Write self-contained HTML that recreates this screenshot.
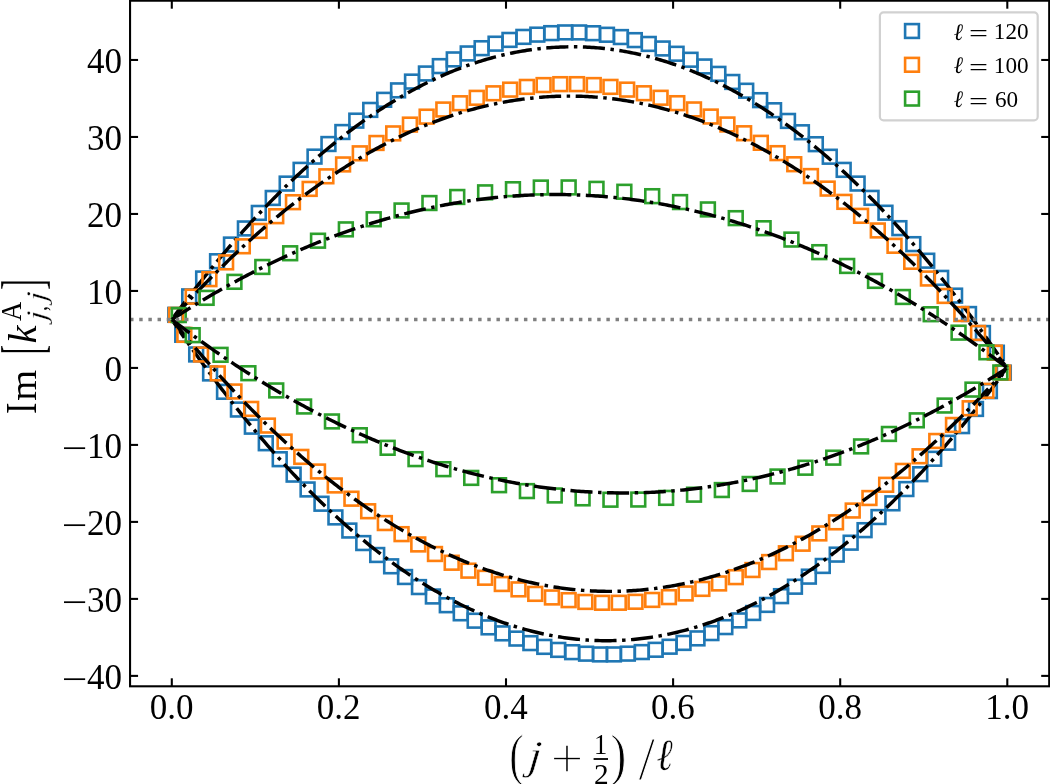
<!DOCTYPE html>
<html lang="en"><head><meta charset="utf-8"><title>Im k plot</title>
<style>html,body{margin:0;padding:0;background:#fff;overflow:hidden}svg{display:block}text{font-family:"Liberation Serif",serif;fill:#000}</style></head><body>
<svg width="1050" height="784" viewBox="0 0 1050 784">
<rect width="1050" height="784" fill="#fff"/>
<defs><clipPath id="ax"><rect x="130.06" y="0.70" width="919.14" height="685.60"/></clipPath></defs>
<g clip-path="url(#ax)">
<g fill="none" stroke="#1f77b4" stroke-width="2.60">
<rect x="168.38" y="307.94" width="13.80" height="13.80"/>
<rect x="182.31" y="289.45" width="13.80" height="13.80"/>
<rect x="196.23" y="271.59" width="13.80" height="13.80"/>
<rect x="210.16" y="254.32" width="13.80" height="13.80"/>
<rect x="224.08" y="237.64" width="13.80" height="13.80"/>
<rect x="238.01" y="221.54" width="13.80" height="13.80"/>
<rect x="251.93" y="206.01" width="13.80" height="13.80"/>
<rect x="265.86" y="191.06" width="13.80" height="13.80"/>
<rect x="279.78" y="176.69" width="13.80" height="13.80"/>
<rect x="293.71" y="162.91" width="13.80" height="13.80"/>
<rect x="307.63" y="149.71" width="13.80" height="13.80"/>
<rect x="321.56" y="137.11" width="13.80" height="13.80"/>
<rect x="335.48" y="125.12" width="13.80" height="13.80"/>
<rect x="349.41" y="113.74" width="13.80" height="13.80"/>
<rect x="363.33" y="103.00" width="13.80" height="13.80"/>
<rect x="377.26" y="92.90" width="13.80" height="13.80"/>
<rect x="391.18" y="83.46" width="13.80" height="13.80"/>
<rect x="405.11" y="74.69" width="13.80" height="13.80"/>
<rect x="419.03" y="66.60" width="13.80" height="13.80"/>
<rect x="432.96" y="59.20" width="13.80" height="13.80"/>
<rect x="446.88" y="52.51" width="13.80" height="13.80"/>
<rect x="460.81" y="46.54" width="13.80" height="13.80"/>
<rect x="474.73" y="41.29" width="13.80" height="13.80"/>
<rect x="488.66" y="36.78" width="13.80" height="13.80"/>
<rect x="502.58" y="33.01" width="13.80" height="13.80"/>
<rect x="516.51" y="29.99" width="13.80" height="13.80"/>
<rect x="530.43" y="27.73" width="13.80" height="13.80"/>
<rect x="544.36" y="26.23" width="13.80" height="13.80"/>
<rect x="558.28" y="25.49" width="13.80" height="13.80"/>
<rect x="572.21" y="25.52" width="13.80" height="13.80"/>
<rect x="586.13" y="26.31" width="13.80" height="13.80"/>
<rect x="600.06" y="27.86" width="13.80" height="13.80"/>
<rect x="613.98" y="30.16" width="13.80" height="13.80"/>
<rect x="627.91" y="33.22" width="13.80" height="13.80"/>
<rect x="641.83" y="37.03" width="13.80" height="13.80"/>
<rect x="655.76" y="41.58" width="13.80" height="13.80"/>
<rect x="669.68" y="46.85" width="13.80" height="13.80"/>
<rect x="683.61" y="52.85" width="13.80" height="13.80"/>
<rect x="697.53" y="59.56" width="13.80" height="13.80"/>
<rect x="711.46" y="66.96" width="13.80" height="13.80"/>
<rect x="725.38" y="75.05" width="13.80" height="13.80"/>
<rect x="739.31" y="83.82" width="13.80" height="13.80"/>
<rect x="753.23" y="93.24" width="13.80" height="13.80"/>
<rect x="767.16" y="103.32" width="13.80" height="13.80"/>
<rect x="781.08" y="114.02" width="13.80" height="13.80"/>
<rect x="795.01" y="125.35" width="13.80" height="13.80"/>
<rect x="808.93" y="137.29" width="13.80" height="13.80"/>
<rect x="822.86" y="149.83" width="13.80" height="13.80"/>
<rect x="836.78" y="162.96" width="13.80" height="13.80"/>
<rect x="850.71" y="176.67" width="13.80" height="13.80"/>
<rect x="864.63" y="190.96" width="13.80" height="13.80"/>
<rect x="878.56" y="205.81" width="13.80" height="13.80"/>
<rect x="892.48" y="221.24" width="13.80" height="13.80"/>
<rect x="906.41" y="237.24" width="13.80" height="13.80"/>
<rect x="920.33" y="253.81" width="13.80" height="13.80"/>
<rect x="934.26" y="270.97" width="13.80" height="13.80"/>
<rect x="948.18" y="288.73" width="13.80" height="13.80"/>
<rect x="962.11" y="307.11" width="13.80" height="13.80"/>
<rect x="976.03" y="326.12" width="13.80" height="13.80"/>
<rect x="989.96" y="345.81" width="13.80" height="13.80"/>
<rect x="175.34" y="327.88" width="13.80" height="13.80"/>
<rect x="189.27" y="347.55" width="13.80" height="13.80"/>
<rect x="203.19" y="366.55" width="13.80" height="13.80"/>
<rect x="217.12" y="384.91" width="13.80" height="13.80"/>
<rect x="231.04" y="402.65" width="13.80" height="13.80"/>
<rect x="244.97" y="419.78" width="13.80" height="13.80"/>
<rect x="258.89" y="436.34" width="13.80" height="13.80"/>
<rect x="272.82" y="452.31" width="13.80" height="13.80"/>
<rect x="286.74" y="467.72" width="13.80" height="13.80"/>
<rect x="300.67" y="482.56" width="13.80" height="13.80"/>
<rect x="314.59" y="496.83" width="13.80" height="13.80"/>
<rect x="328.52" y="510.52" width="13.80" height="13.80"/>
<rect x="342.44" y="523.64" width="13.80" height="13.80"/>
<rect x="356.37" y="536.16" width="13.80" height="13.80"/>
<rect x="370.29" y="548.09" width="13.80" height="13.80"/>
<rect x="384.22" y="559.41" width="13.80" height="13.80"/>
<rect x="398.14" y="570.11" width="13.80" height="13.80"/>
<rect x="412.07" y="580.17" width="13.80" height="13.80"/>
<rect x="425.99" y="589.58" width="13.80" height="13.80"/>
<rect x="439.92" y="598.33" width="13.80" height="13.80"/>
<rect x="453.84" y="606.40" width="13.80" height="13.80"/>
<rect x="467.77" y="613.79" width="13.80" height="13.80"/>
<rect x="481.69" y="620.47" width="13.80" height="13.80"/>
<rect x="495.62" y="626.45" width="13.80" height="13.80"/>
<rect x="509.54" y="631.69" width="13.80" height="13.80"/>
<rect x="523.47" y="636.21" width="13.80" height="13.80"/>
<rect x="537.39" y="639.98" width="13.80" height="13.80"/>
<rect x="551.32" y="643.00" width="13.80" height="13.80"/>
<rect x="565.24" y="645.27" width="13.80" height="13.80"/>
<rect x="579.17" y="646.78" width="13.80" height="13.80"/>
<rect x="593.09" y="647.53" width="13.80" height="13.80"/>
<rect x="607.02" y="647.51" width="13.80" height="13.80"/>
<rect x="620.94" y="646.73" width="13.80" height="13.80"/>
<rect x="634.87" y="645.18" width="13.80" height="13.80"/>
<rect x="648.79" y="642.88" width="13.80" height="13.80"/>
<rect x="662.72" y="639.82" width="13.80" height="13.80"/>
<rect x="676.64" y="636.02" width="13.80" height="13.80"/>
<rect x="690.57" y="631.48" width="13.80" height="13.80"/>
<rect x="704.49" y="626.20" width="13.80" height="13.80"/>
<rect x="718.42" y="620.21" width="13.80" height="13.80"/>
<rect x="732.34" y="613.50" width="13.80" height="13.80"/>
<rect x="746.27" y="606.10" width="13.80" height="13.80"/>
<rect x="760.19" y="598.01" width="13.80" height="13.80"/>
<rect x="774.12" y="589.25" width="13.80" height="13.80"/>
<rect x="788.04" y="579.82" width="13.80" height="13.80"/>
<rect x="801.97" y="569.75" width="13.80" height="13.80"/>
<rect x="815.89" y="559.05" width="13.80" height="13.80"/>
<rect x="829.82" y="547.73" width="13.80" height="13.80"/>
<rect x="843.74" y="535.79" width="13.80" height="13.80"/>
<rect x="857.67" y="523.26" width="13.80" height="13.80"/>
<rect x="871.59" y="510.14" width="13.80" height="13.80"/>
<rect x="885.52" y="496.43" width="13.80" height="13.80"/>
<rect x="899.44" y="482.15" width="13.80" height="13.80"/>
<rect x="913.37" y="467.29" width="13.80" height="13.80"/>
<rect x="927.29" y="451.85" width="13.80" height="13.80"/>
<rect x="941.22" y="435.84" width="13.80" height="13.80"/>
<rect x="955.14" y="419.23" width="13.80" height="13.80"/>
<rect x="969.07" y="402.03" width="13.80" height="13.80"/>
<rect x="982.99" y="384.21" width="13.80" height="13.80"/>
<rect x="996.92" y="365.75" width="13.80" height="13.80"/>
</g>
<polyline fill="none" stroke="#000" stroke-width="3.46" stroke-dasharray="22.12 5.53 3.46 5.53" points="171.80,319.56 173.89,316.72 175.98,313.90 178.07,311.09 180.16,308.30 182.24,305.52 184.33,302.76 186.42,300.01 188.51,297.28 190.60,294.56 192.69,291.86 194.78,289.17 196.87,286.50 198.95,283.84 201.04,281.20 203.13,278.57 205.22,275.96 207.31,273.36 209.40,270.77 211.49,268.20 213.58,265.65 215.66,263.11 217.75,260.58 219.84,258.07 221.93,255.58 224.02,253.10 226.11,250.63 228.20,248.18 230.29,245.75 232.37,243.33 234.46,240.92 236.55,238.53 238.64,236.15 240.73,233.79 242.82,231.44 244.91,229.11 247.00,226.79 249.08,224.49 251.17,222.20 253.26,219.93 255.35,217.67 257.44,215.43 259.53,213.20 261.62,210.99 263.71,208.79 265.79,206.60 267.88,204.43 269.97,202.28 272.06,200.14 274.15,198.02 276.24,195.91 278.33,193.81 280.42,191.73 282.50,189.67 284.59,187.61 286.68,185.58 288.77,183.56 290.86,181.55 292.95,179.56 295.04,177.58 297.12,175.62 299.21,173.68 301.30,171.74 303.39,169.83 305.48,167.92 307.57,166.04 309.66,164.16 311.75,162.31 313.84,160.46 315.92,158.63 318.01,156.82 320.10,155.02 322.19,153.24 324.28,151.47 326.37,149.72 328.46,147.98 330.55,146.25 332.63,144.54 334.72,142.85 336.81,141.17 338.90,139.50 340.99,137.85 343.08,136.22 345.17,134.60 347.25,132.99 349.34,131.40 351.43,129.82 353.52,128.26 355.61,126.71 357.70,125.18 359.79,123.67 361.88,122.16 363.97,120.68 366.05,119.20 368.14,117.75 370.23,116.30 372.32,114.88 374.41,113.46 376.50,112.06 378.59,110.68 380.68,109.31 382.76,107.96 384.85,106.62 386.94,105.29 389.03,103.99 391.12,102.69 393.21,101.41 395.30,100.15 397.38,98.90 399.47,97.66 401.56,96.44 403.65,95.23 405.74,94.04 407.83,92.87 409.92,91.71 412.01,90.56 414.10,89.43 416.18,88.31 418.27,87.21 420.36,86.12 422.45,85.05 424.54,83.99 426.63,82.95 428.72,81.92 430.81,80.91 432.89,79.91 434.98,78.93 437.07,77.96 439.16,77.01 441.25,76.07 443.34,75.14 445.43,74.23 447.52,73.34 449.60,72.46 451.69,71.59 453.78,70.74 455.87,69.91 457.96,69.09 460.05,68.28 462.14,67.49 464.22,66.72 466.31,65.96 468.40,65.21 470.49,64.48 472.58,63.76 474.67,63.06 476.76,62.37 478.85,61.70 480.94,61.04 483.02,60.40 485.11,59.77 487.20,59.16 489.29,58.56 491.38,57.98 493.47,57.41 495.56,56.86 497.65,56.32 499.73,55.80 501.82,55.29 503.91,54.79 506.00,54.31 508.09,53.85 510.18,53.40 512.27,52.96 514.36,52.54 516.44,52.14 518.53,51.75 520.62,51.37 522.71,51.01 524.80,50.67 526.89,50.33 528.98,50.02 531.07,49.72 533.15,49.43 535.24,49.16 537.33,48.90 539.42,48.66 541.51,48.43 543.60,48.22 545.69,48.02 547.78,47.84 549.86,47.67 551.95,47.52 554.04,47.38 556.13,47.26 558.22,47.15 560.31,47.05 562.40,46.97 564.49,46.91 566.57,46.86 568.66,46.82 570.75,46.80 572.84,46.80 574.93,46.81 577.02,46.83 579.11,46.87 581.19,46.93 583.28,47.00 585.37,47.08 587.46,47.18 589.55,47.29 591.64,47.42 593.73,47.56 595.82,47.72 597.90,47.90 599.99,48.08 602.08,48.29 604.17,48.50 606.26,48.73 608.35,48.98 610.44,49.24 612.53,49.52 614.62,49.81 616.70,50.12 618.79,50.44 620.88,50.77 622.97,51.13 625.06,51.49 627.15,51.87 629.24,52.27 631.33,52.68 633.41,53.10 635.50,53.54 637.59,53.99 639.68,54.46 641.77,54.95 643.86,55.45 645.95,55.96 648.03,56.49 650.12,57.03 652.21,57.59 654.30,58.16 656.39,58.75 658.48,59.35 660.57,59.97 662.66,60.60 664.75,61.25 666.83,61.91 668.92,62.59 671.01,63.28 673.10,63.99 675.19,64.71 677.28,65.45 679.37,66.20 681.45,66.96 683.54,67.74 685.63,68.54 687.72,69.35 689.81,70.17 691.90,71.01 693.99,71.87 696.08,72.74 698.16,73.62 700.25,74.52 702.34,75.43 704.43,76.36 706.52,77.31 708.61,78.27 710.70,79.24 712.79,80.23 714.88,81.23 716.96,82.25 719.05,83.28 721.14,84.33 723.23,85.39 725.32,86.47 727.41,87.56 729.50,88.66 731.59,89.79 733.67,90.92 735.76,92.07 737.85,93.24 739.94,94.42 742.03,95.62 744.12,96.83 746.21,98.05 748.30,99.29 750.38,100.55 752.47,101.82 754.56,103.10 756.65,104.40 758.74,105.71 760.83,107.04 762.92,108.39 765.00,109.75 767.09,111.12 769.18,112.51 771.27,113.91 773.36,115.33 775.45,116.76 777.54,118.21 779.63,119.67 781.71,121.15 783.80,122.64 785.89,124.15 787.98,125.67 790.07,127.20 792.16,128.76 794.25,130.32 796.34,131.90 798.42,133.50 800.51,135.11 802.60,136.73 804.69,138.38 806.78,140.03 808.87,141.70 810.96,143.38 813.05,145.08 815.13,146.80 817.22,148.53 819.31,150.27 821.40,152.03 823.49,153.80 825.58,155.59 827.67,157.40 829.76,159.21 831.85,161.05 833.93,162.89 836.02,164.76 838.11,166.63 840.20,168.53 842.29,170.43 844.38,172.36 846.47,174.29 848.56,176.24 850.64,178.21 852.73,180.19 854.82,182.19 856.91,184.20 859.00,186.22 861.09,188.26 863.18,190.32 865.26,192.39 867.35,194.47 869.44,196.57 871.53,198.69 873.62,200.82 875.71,202.96 877.80,205.12 879.89,207.30 881.97,209.48 884.06,211.69 886.15,213.91 888.24,216.14 890.33,218.39 892.42,220.65 894.51,222.93 896.60,225.22 898.68,227.53 900.77,229.85 902.86,232.19 904.95,234.54 907.04,236.90 909.13,239.29 911.22,241.68 913.31,244.09 915.39,246.52 917.48,248.96 919.57,251.42 921.66,253.89 923.75,256.37 925.84,258.87 927.93,261.39 930.02,263.91 932.11,266.46 934.19,269.02 936.28,271.59 938.37,274.18 940.46,276.79 942.55,279.40 944.64,282.04 946.73,284.69 948.82,287.35 950.90,290.03 952.99,292.72 955.08,295.43 957.17,298.15 959.26,300.89 961.35,303.64 963.44,306.40 965.52,309.19 967.61,311.98 969.70,314.79 971.79,317.62 973.88,320.46 975.97,323.32 978.06,326.19 980.15,329.07 982.23,331.97 984.32,334.89 986.41,337.82 988.50,340.76 990.59,343.72 992.68,346.70 994.77,349.68 996.86,352.69 998.94,355.71 1001.03,358.74 1003.12,361.79 1005.21,364.85 1007.30,367.93"/>
<polyline fill="none" stroke="#000" stroke-width="3.46" stroke-dasharray="22.12 5.53 3.46 5.53" points="171.80,319.56 173.89,322.63 175.98,325.70 178.07,328.75 180.16,331.78 182.24,334.80 184.33,337.80 186.42,340.79 188.51,343.76 190.60,346.72 192.69,349.67 194.78,352.60 196.87,355.51 198.95,358.41 201.04,361.30 203.13,364.17 205.22,367.03 207.31,369.87 209.40,372.69 211.49,375.50 213.58,378.30 215.66,381.08 217.75,383.85 219.84,386.60 221.93,389.34 224.02,392.06 226.11,394.77 228.20,397.46 230.29,400.14 232.37,402.80 234.46,405.45 236.55,408.08 238.64,410.70 240.73,413.30 242.82,415.89 244.91,418.47 247.00,421.03 249.08,423.57 251.17,426.10 253.26,428.62 255.35,431.12 257.44,433.60 259.53,436.07 261.62,438.53 263.71,440.97 265.79,443.39 267.88,445.80 269.97,448.20 272.06,450.58 274.15,452.95 276.24,455.30 278.33,457.64 280.42,459.96 282.50,462.27 284.59,464.56 286.68,466.84 288.77,469.10 290.86,471.35 292.95,473.58 295.04,475.80 297.12,478.00 299.21,480.19 301.30,482.36 303.39,484.52 305.48,486.67 307.57,488.80 309.66,490.91 311.75,493.01 313.84,495.10 315.92,497.17 318.01,499.22 320.10,501.26 322.19,503.29 324.28,505.30 326.37,507.29 328.46,509.28 330.55,511.24 332.63,513.19 334.72,515.13 336.81,517.05 338.90,518.96 340.99,520.85 343.08,522.73 345.17,524.59 347.25,526.44 349.34,528.27 351.43,530.09 353.52,531.89 355.61,533.68 357.70,535.46 359.79,537.21 361.88,538.96 363.97,540.69 366.05,542.40 368.14,544.10 370.23,545.79 372.32,547.46 374.41,549.11 376.50,550.75 378.59,552.38 380.68,553.99 382.76,555.58 384.85,557.16 386.94,558.73 389.03,560.28 391.12,561.82 393.21,563.34 395.30,564.85 397.38,566.34 399.47,567.82 401.56,569.28 403.65,570.73 405.74,572.16 407.83,573.58 409.92,574.98 412.01,576.37 414.10,577.74 416.18,579.10 418.27,580.44 420.36,581.77 422.45,583.09 424.54,584.39 426.63,585.67 428.72,586.94 430.81,588.19 432.89,589.43 434.98,590.66 437.07,591.87 439.16,593.07 441.25,594.25 443.34,595.41 445.43,596.56 447.52,597.70 449.60,598.82 451.69,599.93 453.78,601.02 455.87,602.10 457.96,603.16 460.05,604.21 462.14,605.24 464.22,606.26 466.31,607.26 468.40,608.25 470.49,609.22 472.58,610.18 474.67,611.12 476.76,612.05 478.85,612.97 480.94,613.86 483.02,614.75 485.11,615.62 487.20,616.47 489.29,617.31 491.38,618.14 493.47,618.95 495.56,619.74 497.65,620.52 499.73,621.29 501.82,622.04 503.91,622.78 506.00,623.50 508.09,624.20 510.18,624.90 512.27,625.57 514.36,626.23 516.44,626.88 518.53,627.51 520.62,628.13 522.71,628.73 524.80,629.32 526.89,629.89 528.98,630.45 531.07,631.00 533.15,631.52 535.24,632.04 537.33,632.54 539.42,633.02 541.51,633.49 543.60,633.95 545.69,634.38 547.78,634.81 549.86,635.22 551.95,635.61 554.04,636.00 556.13,636.36 558.22,636.71 560.31,637.05 562.40,637.37 564.49,637.67 566.57,637.97 568.66,638.24 570.75,638.50 572.84,638.75 574.93,638.98 577.02,639.20 579.11,639.40 581.19,639.59 583.28,639.76 585.37,639.92 587.46,640.06 589.55,640.19 591.64,640.31 593.73,640.41 595.82,640.49 597.90,640.56 599.99,640.61 602.08,640.65 604.17,640.68 606.26,640.69 608.35,640.68 610.44,640.66 612.53,640.63 614.62,640.58 616.70,640.51 618.79,640.43 620.88,640.34 622.97,640.23 625.06,640.11 627.15,639.97 629.24,639.82 631.33,639.65 633.41,639.46 635.50,639.27 637.59,639.05 639.68,638.83 641.77,638.58 643.86,638.33 645.95,638.06 648.03,637.77 650.12,637.47 652.21,637.15 654.30,636.82 656.39,636.47 658.48,636.11 660.57,635.74 662.66,635.35 664.75,634.94 666.83,634.52 668.92,634.09 671.01,633.64 673.10,633.17 675.19,632.69 677.28,632.20 679.37,631.69 681.45,631.17 683.54,630.63 685.63,630.07 687.72,629.51 689.81,628.92 691.90,628.32 693.99,627.71 696.08,627.08 698.16,626.44 700.25,625.78 702.34,625.11 704.43,624.43 706.52,623.72 708.61,623.01 710.70,622.28 712.79,621.53 714.88,620.77 716.96,619.99 719.05,619.20 721.14,618.40 723.23,617.58 725.32,616.74 727.41,615.89 729.50,615.03 731.59,614.15 733.67,613.25 735.76,612.34 737.85,611.42 739.94,610.48 742.03,609.53 744.12,608.56 746.21,607.57 748.30,606.58 750.38,605.56 752.47,604.54 754.56,603.49 756.65,602.44 758.74,601.36 760.83,600.28 762.92,599.17 765.00,598.06 767.09,596.93 769.18,595.78 771.27,594.62 773.36,593.44 775.45,592.25 777.54,591.05 779.63,589.83 781.71,588.59 783.80,587.34 785.89,586.08 787.98,584.80 790.07,583.50 792.16,582.19 794.25,580.87 796.34,579.53 798.42,578.17 800.51,576.81 802.60,575.42 804.69,574.02 806.78,572.61 808.87,571.18 810.96,569.74 813.05,568.28 815.13,566.81 817.22,565.32 819.31,563.82 821.40,562.30 823.49,560.77 825.58,559.22 827.67,557.66 829.76,556.09 831.85,554.50 833.93,552.89 836.02,551.27 838.11,549.63 840.20,547.98 842.29,546.32 844.38,544.64 846.47,542.94 848.56,541.23 850.64,539.51 852.73,537.77 854.82,536.02 856.91,534.25 859.00,532.46 861.09,530.66 863.18,528.85 865.26,527.02 867.35,525.18 869.44,523.32 871.53,521.45 873.62,519.56 875.71,517.66 877.80,515.74 879.89,513.81 881.97,511.86 884.06,509.90 886.15,507.93 888.24,505.93 890.33,503.93 892.42,501.91 894.51,499.87 896.60,497.82 898.68,495.76 900.77,493.68 902.86,491.58 904.95,489.47 907.04,487.35 909.13,485.21 911.22,483.05 913.31,480.88 915.39,478.70 917.48,476.50 919.57,474.29 921.66,472.06 923.75,469.81 925.84,467.56 927.93,465.28 930.02,463.00 932.11,460.69 934.19,458.38 936.28,456.04 938.37,453.70 940.46,451.33 942.55,448.96 944.64,446.57 946.73,444.16 948.82,441.74 950.90,439.30 952.99,436.85 955.08,434.39 957.17,431.91 959.26,429.41 961.35,426.90 963.44,424.38 965.52,421.84 967.61,419.28 969.70,416.71 971.79,414.13 973.88,411.53 975.97,408.92 978.06,406.29 980.15,403.64 982.23,400.99 984.32,398.31 986.41,395.62 988.50,392.92 990.59,390.20 992.68,387.47 994.77,384.72 996.86,381.96 998.94,379.19 1001.03,376.39 1003.12,373.59 1005.21,370.77 1007.30,367.93"/>
<g fill="none" stroke="#ff7f0e" stroke-width="2.60">
<rect x="169.08" y="307.98" width="13.80" height="13.80"/>
<rect x="185.79" y="289.75" width="13.80" height="13.80"/>
<rect x="202.50" y="272.26" width="13.80" height="13.80"/>
<rect x="219.21" y="255.47" width="13.80" height="13.80"/>
<rect x="235.92" y="239.39" width="13.80" height="13.80"/>
<rect x="252.63" y="224.00" width="13.80" height="13.80"/>
<rect x="269.34" y="209.30" width="13.80" height="13.80"/>
<rect x="286.05" y="195.29" width="13.80" height="13.80"/>
<rect x="302.76" y="181.99" width="13.80" height="13.80"/>
<rect x="319.47" y="169.40" width="13.80" height="13.80"/>
<rect x="336.18" y="157.54" width="13.80" height="13.80"/>
<rect x="352.89" y="146.42" width="13.80" height="13.80"/>
<rect x="369.60" y="136.07" width="13.80" height="13.80"/>
<rect x="386.31" y="126.49" width="13.80" height="13.80"/>
<rect x="403.02" y="117.71" width="13.80" height="13.80"/>
<rect x="419.73" y="109.75" width="13.80" height="13.80"/>
<rect x="436.44" y="102.61" width="13.80" height="13.80"/>
<rect x="453.15" y="96.34" width="13.80" height="13.80"/>
<rect x="469.86" y="90.92" width="13.80" height="13.80"/>
<rect x="486.57" y="86.39" width="13.80" height="13.80"/>
<rect x="503.28" y="82.74" width="13.80" height="13.80"/>
<rect x="519.99" y="80.00" width="13.80" height="13.80"/>
<rect x="536.70" y="78.17" width="13.80" height="13.80"/>
<rect x="553.41" y="77.25" width="13.80" height="13.80"/>
<rect x="570.12" y="77.24" width="13.80" height="13.80"/>
<rect x="586.83" y="78.15" width="13.80" height="13.80"/>
<rect x="603.54" y="79.98" width="13.80" height="13.80"/>
<rect x="620.25" y="82.71" width="13.80" height="13.80"/>
<rect x="636.96" y="86.34" width="13.80" height="13.80"/>
<rect x="653.67" y="90.86" width="13.80" height="13.80"/>
<rect x="670.38" y="96.27" width="13.80" height="13.80"/>
<rect x="687.09" y="102.53" width="13.80" height="13.80"/>
<rect x="703.80" y="109.64" width="13.80" height="13.80"/>
<rect x="720.51" y="117.59" width="13.80" height="13.80"/>
<rect x="737.22" y="126.35" width="13.80" height="13.80"/>
<rect x="753.93" y="135.90" width="13.80" height="13.80"/>
<rect x="770.64" y="146.23" width="13.80" height="13.80"/>
<rect x="787.35" y="157.32" width="13.80" height="13.80"/>
<rect x="804.06" y="169.15" width="13.80" height="13.80"/>
<rect x="820.77" y="181.70" width="13.80" height="13.80"/>
<rect x="837.48" y="194.96" width="13.80" height="13.80"/>
<rect x="854.19" y="208.92" width="13.80" height="13.80"/>
<rect x="870.90" y="223.56" width="13.80" height="13.80"/>
<rect x="887.61" y="238.89" width="13.80" height="13.80"/>
<rect x="904.32" y="254.91" width="13.80" height="13.80"/>
<rect x="921.03" y="271.62" width="13.80" height="13.80"/>
<rect x="937.74" y="289.03" width="13.80" height="13.80"/>
<rect x="954.45" y="307.16" width="13.80" height="13.80"/>
<rect x="971.16" y="326.05" width="13.80" height="13.80"/>
<rect x="987.87" y="345.73" width="13.80" height="13.80"/>
<rect x="177.43" y="327.96" width="13.80" height="13.80"/>
<rect x="194.14" y="347.62" width="13.80" height="13.80"/>
<rect x="210.85" y="366.49" width="13.80" height="13.80"/>
<rect x="227.56" y="384.60" width="13.80" height="13.80"/>
<rect x="244.27" y="401.99" width="13.80" height="13.80"/>
<rect x="260.98" y="418.68" width="13.80" height="13.80"/>
<rect x="277.69" y="434.67" width="13.80" height="13.80"/>
<rect x="294.40" y="449.98" width="13.80" height="13.80"/>
<rect x="311.11" y="464.61" width="13.80" height="13.80"/>
<rect x="327.82" y="478.56" width="13.80" height="13.80"/>
<rect x="344.53" y="491.80" width="13.80" height="13.80"/>
<rect x="361.24" y="504.34" width="13.80" height="13.80"/>
<rect x="377.95" y="516.16" width="13.80" height="13.80"/>
<rect x="394.66" y="527.24" width="13.80" height="13.80"/>
<rect x="411.37" y="537.55" width="13.80" height="13.80"/>
<rect x="428.08" y="547.10" width="13.80" height="13.80"/>
<rect x="444.79" y="555.84" width="13.80" height="13.80"/>
<rect x="461.50" y="563.77" width="13.80" height="13.80"/>
<rect x="478.21" y="570.86" width="13.80" height="13.80"/>
<rect x="494.92" y="577.10" width="13.80" height="13.80"/>
<rect x="511.63" y="582.47" width="13.80" height="13.80"/>
<rect x="528.34" y="586.96" width="13.80" height="13.80"/>
<rect x="545.05" y="590.56" width="13.80" height="13.80"/>
<rect x="561.76" y="593.25" width="13.80" height="13.80"/>
<rect x="578.47" y="595.04" width="13.80" height="13.80"/>
<rect x="595.18" y="595.90" width="13.80" height="13.80"/>
<rect x="611.89" y="595.86" width="13.80" height="13.80"/>
<rect x="628.60" y="594.89" width="13.80" height="13.80"/>
<rect x="645.31" y="593.02" width="13.80" height="13.80"/>
<rect x="662.02" y="590.23" width="13.80" height="13.80"/>
<rect x="678.73" y="586.56" width="13.80" height="13.80"/>
<rect x="695.44" y="581.99" width="13.80" height="13.80"/>
<rect x="712.15" y="576.55" width="13.80" height="13.80"/>
<rect x="728.86" y="570.25" width="13.80" height="13.80"/>
<rect x="745.57" y="563.12" width="13.80" height="13.80"/>
<rect x="762.28" y="555.15" width="13.80" height="13.80"/>
<rect x="778.99" y="546.39" width="13.80" height="13.80"/>
<rect x="795.70" y="536.83" width="13.80" height="13.80"/>
<rect x="812.41" y="526.51" width="13.80" height="13.80"/>
<rect x="829.12" y="515.44" width="13.80" height="13.80"/>
<rect x="845.83" y="503.64" width="13.80" height="13.80"/>
<rect x="862.54" y="491.12" width="13.80" height="13.80"/>
<rect x="879.25" y="477.90" width="13.80" height="13.80"/>
<rect x="895.96" y="463.98" width="13.80" height="13.80"/>
<rect x="912.67" y="449.36" width="13.80" height="13.80"/>
<rect x="929.38" y="434.06" width="13.80" height="13.80"/>
<rect x="946.09" y="418.06" width="13.80" height="13.80"/>
<rect x="962.80" y="401.35" width="13.80" height="13.80"/>
<rect x="979.51" y="383.91" width="13.80" height="13.80"/>
<rect x="996.22" y="365.70" width="13.80" height="13.80"/>
</g>
<polyline fill="none" stroke="#000" stroke-width="3.46" stroke-dasharray="22.12 5.53 3.46 5.53" points="171.80,319.56 173.89,317.21 175.98,314.88 178.07,312.56 180.16,310.26 182.24,307.96 184.33,305.68 186.42,303.41 188.51,301.16 190.60,298.91 192.69,296.68 194.78,294.46 196.87,292.25 198.95,290.06 201.04,287.87 203.13,285.70 205.22,283.55 207.31,281.40 209.40,279.27 211.49,277.15 213.58,275.04 215.66,272.94 217.75,270.86 219.84,268.78 221.93,266.73 224.02,264.68 226.11,262.64 228.20,260.62 230.29,258.61 232.37,256.61 234.46,254.63 236.55,252.66 238.64,250.70 240.73,248.75 242.82,246.81 244.91,244.89 247.00,242.98 249.08,241.08 251.17,239.19 253.26,237.32 255.35,235.46 257.44,233.61 259.53,231.77 261.62,229.95 263.71,228.14 265.79,226.34 267.88,224.55 269.97,222.77 272.06,221.01 274.15,219.26 276.24,217.52 278.33,215.80 280.42,214.08 282.50,212.38 284.59,210.69 286.68,209.02 288.77,207.35 290.86,205.70 292.95,204.06 295.04,202.44 297.12,200.82 299.21,199.22 301.30,197.63 303.39,196.05 305.48,194.49 307.57,192.93 309.66,191.39 311.75,189.86 313.84,188.35 315.92,186.85 318.01,185.35 320.10,183.88 322.19,182.41 324.28,180.96 326.37,179.51 328.46,178.08 330.55,176.67 332.63,175.26 334.72,173.87 336.81,172.49 338.90,171.12 340.99,169.77 343.08,168.43 345.17,167.10 347.25,165.78 349.34,164.47 351.43,163.18 353.52,161.90 355.61,160.63 357.70,159.37 359.79,158.13 361.88,156.90 363.97,155.68 366.05,154.47 368.14,153.28 370.23,152.09 372.32,150.92 374.41,149.77 376.50,148.62 378.59,147.49 380.68,146.37 382.76,145.26 384.85,144.16 386.94,143.08 389.03,142.01 391.12,140.95 393.21,139.90 395.30,138.87 397.38,137.85 399.47,136.84 401.56,135.84 403.65,134.86 405.74,133.89 407.83,132.93 409.92,131.98 412.01,131.04 414.10,130.12 416.18,129.21 418.27,128.31 420.36,127.43 422.45,126.55 424.54,125.69 426.63,124.84 428.72,124.01 430.81,123.18 432.89,122.37 434.98,121.57 437.07,120.79 439.16,120.01 441.25,119.25 443.34,118.50 445.43,117.76 447.52,117.04 449.60,116.32 451.69,115.62 453.78,114.93 455.87,114.26 457.96,113.59 460.05,112.94 462.14,112.31 464.22,111.68 466.31,111.06 468.40,110.46 470.49,109.87 472.58,109.30 474.67,108.73 476.76,108.18 478.85,107.64 480.94,107.11 483.02,106.60 485.11,106.09 487.20,105.60 489.29,105.13 491.38,104.66 493.47,104.21 495.56,103.77 497.65,103.34 499.73,102.92 501.82,102.52 503.91,102.12 506.00,101.75 508.09,101.38 510.18,101.02 512.27,100.68 514.36,100.35 516.44,100.03 518.53,99.73 520.62,99.44 522.71,99.16 524.80,98.89 526.89,98.63 528.98,98.39 531.07,98.16 533.15,97.94 535.24,97.73 537.33,97.54 539.42,97.36 541.51,97.19 543.60,97.03 545.69,96.89 547.78,96.75 549.86,96.63 551.95,96.53 554.04,96.43 556.13,96.35 558.22,96.28 560.31,96.22 562.40,96.17 564.49,96.14 566.57,96.12 568.66,96.11 570.75,96.11 572.84,96.13 574.93,96.16 577.02,96.20 579.11,96.25 581.19,96.32 583.28,96.39 585.37,96.48 587.46,96.59 589.55,96.70 591.64,96.83 593.73,96.97 595.82,97.12 597.90,97.28 599.99,97.46 602.08,97.65 604.17,97.85 606.26,98.06 608.35,98.29 610.44,98.53 612.53,98.78 614.62,99.04 616.70,99.32 618.79,99.60 620.88,99.90 622.97,100.22 625.06,100.54 627.15,100.88 629.24,101.23 631.33,101.59 633.41,101.96 635.50,102.35 637.59,102.75 639.68,103.16 641.77,103.58 643.86,104.02 645.95,104.47 648.03,104.93 650.12,105.40 652.21,105.89 654.30,106.39 656.39,106.90 658.48,107.42 660.57,107.95 662.66,108.50 664.75,109.06 666.83,109.63 668.92,110.21 671.01,110.81 673.10,111.42 675.19,112.04 677.28,112.68 679.37,113.32 681.45,113.98 683.54,114.65 685.63,115.33 687.72,116.03 689.81,116.74 691.90,117.46 693.99,118.19 696.08,118.93 698.16,119.69 700.25,120.46 702.34,121.24 704.43,122.04 706.52,122.84 708.61,123.66 710.70,124.49 712.79,125.34 714.88,126.19 716.96,127.06 719.05,127.94 721.14,128.83 723.23,129.74 725.32,130.66 727.41,131.59 729.50,132.53 731.59,133.48 733.67,134.45 735.76,135.43 737.85,136.42 739.94,137.43 742.03,138.44 744.12,139.47 746.21,140.51 748.30,141.57 750.38,142.63 752.47,143.71 754.56,144.80 756.65,145.90 758.74,147.02 760.83,148.15 762.92,149.29 765.00,150.44 767.09,151.60 769.18,152.78 771.27,153.97 773.36,155.17 775.45,156.38 777.54,157.61 779.63,158.85 781.71,160.10 783.80,161.36 785.89,162.64 787.98,163.93 790.07,165.23 792.16,166.54 794.25,167.87 796.34,169.21 798.42,170.56 800.51,171.92 802.60,173.29 804.69,174.68 806.78,176.08 808.87,177.49 810.96,178.91 813.05,180.35 815.13,181.80 817.22,183.26 819.31,184.73 821.40,186.22 823.49,187.72 825.58,189.23 827.67,190.75 829.76,192.29 831.85,193.83 833.93,195.39 836.02,196.97 838.11,198.55 840.20,200.15 842.29,201.76 844.38,203.38 846.47,205.01 848.56,206.66 850.64,208.32 852.73,209.99 854.82,211.67 856.91,213.37 859.00,215.08 861.09,216.80 863.18,218.53 865.26,220.28 867.35,222.03 869.44,223.80 871.53,225.59 873.62,227.38 875.71,229.19 877.80,231.01 879.89,232.84 881.97,234.68 884.06,236.54 886.15,238.41 888.24,240.29 890.33,242.18 892.42,244.09 894.51,246.01 896.60,247.94 898.68,249.88 900.77,251.83 902.86,253.80 904.95,255.78 907.04,257.77 909.13,259.78 911.22,261.80 913.31,263.83 915.39,265.87 917.48,267.92 919.57,269.99 921.66,272.07 923.75,274.16 925.84,276.26 927.93,278.38 930.02,280.50 932.11,282.65 934.19,284.80 936.28,286.96 938.37,289.14 940.46,291.33 942.55,293.53 944.64,295.75 946.73,297.97 948.82,300.21 950.90,302.47 952.99,304.73 955.08,307.01 957.17,309.29 959.26,311.60 961.35,313.91 963.44,316.24 965.52,318.57 967.61,320.92 969.70,323.29 971.79,325.66 973.88,328.05 975.97,330.45 978.06,332.86 980.15,335.29 982.23,337.72 984.32,340.17 986.41,342.63 988.50,345.11 990.59,347.59 992.68,350.09 994.77,352.60 996.86,355.13 998.94,357.66 1001.03,360.21 1003.12,362.77 1005.21,365.34 1007.30,367.93"/>
<polyline fill="none" stroke="#000" stroke-width="3.46" stroke-dasharray="22.12 5.53 3.46 5.53" points="171.80,319.56 173.89,322.14 175.98,324.71 178.07,327.27 180.16,329.82 182.24,332.36 184.33,334.88 186.42,337.39 188.51,339.89 190.60,342.38 192.69,344.85 194.78,347.31 196.87,349.76 198.95,352.20 201.04,354.62 203.13,357.04 205.22,359.44 207.31,361.82 209.40,364.20 211.49,366.56 213.58,368.91 215.66,371.25 217.75,373.58 219.84,375.89 221.93,378.19 224.02,380.48 226.11,382.76 228.20,385.02 230.29,387.27 232.37,389.51 234.46,391.74 236.55,393.95 238.64,396.15 240.73,398.34 242.82,400.52 244.91,402.69 247.00,404.84 249.08,406.98 251.17,409.11 253.26,411.22 255.35,413.33 257.44,415.42 259.53,417.50 261.62,419.56 263.71,421.62 265.79,423.66 267.88,425.69 269.97,427.71 272.06,429.71 274.15,431.70 276.24,433.68 278.33,435.65 280.42,437.61 282.50,439.55 284.59,441.48 286.68,443.40 288.77,445.30 290.86,447.20 292.95,449.08 295.04,450.95 297.12,452.80 299.21,454.65 301.30,456.48 303.39,458.30 305.48,460.11 307.57,461.90 309.66,463.68 311.75,465.45 313.84,467.21 315.92,468.95 318.01,470.69 320.10,472.41 322.19,474.12 324.28,475.81 326.37,477.50 328.46,479.17 330.55,480.83 332.63,482.47 334.72,484.11 336.81,485.73 338.90,487.34 340.99,488.93 343.08,490.52 345.17,492.09 347.25,493.65 349.34,495.20 351.43,496.73 353.52,498.26 355.61,499.77 357.70,501.27 359.79,502.75 361.88,504.23 363.97,505.69 366.05,507.13 368.14,508.57 370.23,510.00 372.32,511.41 374.41,512.81 376.50,514.19 378.59,515.57 380.68,516.93 382.76,518.28 384.85,519.62 386.94,520.94 389.03,522.26 391.12,523.56 393.21,524.85 395.30,526.12 397.38,527.38 399.47,528.64 401.56,529.87 403.65,531.10 405.74,532.31 407.83,533.52 409.92,534.71 412.01,535.88 414.10,537.05 416.18,538.20 418.27,539.34 420.36,540.47 422.45,541.58 424.54,542.69 426.63,543.78 428.72,544.85 430.81,545.92 432.89,546.97 434.98,548.02 437.07,549.04 439.16,550.06 441.25,551.06 443.34,552.06 445.43,553.04 447.52,554.00 449.60,554.96 451.69,555.90 453.78,556.83 455.87,557.75 457.96,558.65 460.05,559.55 462.14,560.43 464.22,561.29 466.31,562.15 468.40,562.99 470.49,563.83 472.58,564.64 474.67,565.45 476.76,566.24 478.85,567.03 480.94,567.80 483.02,568.55 485.11,569.30 487.20,570.03 489.29,570.75 491.38,571.46 493.47,572.15 495.56,572.84 497.65,573.51 499.73,574.16 501.82,574.81 503.91,575.44 506.00,576.07 508.09,576.67 510.18,577.27 512.27,577.85 514.36,578.43 516.44,578.99 518.53,579.53 520.62,580.07 522.71,580.59 524.80,581.10 526.89,581.60 528.98,582.08 531.07,582.56 533.15,583.02 535.24,583.47 537.33,583.90 539.42,584.32 541.51,584.74 543.60,585.13 545.69,585.52 547.78,585.90 549.86,586.26 551.95,586.61 554.04,586.94 556.13,587.27 558.22,587.58 560.31,587.88 562.40,588.17 564.49,588.44 566.57,588.71 568.66,588.96 570.75,589.20 572.84,589.42 574.93,589.64 577.02,589.84 579.11,590.03 581.19,590.20 583.28,590.37 585.37,590.52 587.46,590.66 589.55,590.78 591.64,590.90 593.73,591.00 595.82,591.09 597.90,591.17 599.99,591.23 602.08,591.29 604.17,591.33 606.26,591.36 608.35,591.37 610.44,591.38 612.53,591.37 614.62,591.35 616.70,591.31 618.79,591.27 620.88,591.21 622.97,591.14 625.06,591.06 627.15,590.96 629.24,590.85 631.33,590.73 633.41,590.60 635.50,590.46 637.59,590.30 639.68,590.13 641.77,589.95 643.86,589.75 645.95,589.55 648.03,589.33 650.12,589.10 652.21,588.85 654.30,588.60 656.39,588.33 658.48,588.05 660.57,587.76 662.66,587.45 664.75,587.13 666.83,586.80 668.92,586.46 671.01,586.11 673.10,585.74 675.19,585.36 677.28,584.97 679.37,584.57 681.45,584.15 683.54,583.72 685.63,583.28 687.72,582.83 689.81,582.36 691.90,581.88 693.99,581.39 696.08,580.89 698.16,580.37 700.25,579.85 702.34,579.31 704.43,578.75 706.52,578.19 708.61,577.61 710.70,577.02 712.79,576.42 714.88,575.81 716.96,575.18 719.05,574.54 721.14,573.89 723.23,573.23 725.32,572.55 727.41,571.86 729.50,571.16 731.59,570.45 733.67,569.72 735.76,568.99 737.85,568.24 739.94,567.48 742.03,566.70 744.12,565.91 746.21,565.11 748.30,564.30 750.38,563.48 752.47,562.64 754.56,561.79 756.65,560.93 758.74,560.06 760.83,559.17 762.92,558.28 765.00,557.36 767.09,556.44 769.18,555.51 771.27,554.56 773.36,553.60 775.45,552.63 777.54,551.64 779.63,550.65 781.71,549.64 783.80,548.61 785.89,547.58 787.98,546.53 790.07,545.48 792.16,544.40 794.25,543.32 796.34,542.23 798.42,541.12 800.51,540.00 802.60,538.86 804.69,537.72 806.78,536.56 808.87,535.39 810.96,534.21 813.05,533.02 815.13,531.81 817.22,530.59 819.31,529.36 821.40,528.11 823.49,526.86 825.58,525.59 827.67,524.31 829.76,523.01 831.85,521.71 833.93,520.39 836.02,519.06 838.11,517.72 840.20,516.36 842.29,514.99 844.38,513.61 846.47,512.22 848.56,510.82 850.64,509.40 852.73,507.97 854.82,506.53 856.91,505.08 859.00,503.61 861.09,502.13 863.18,500.64 865.26,499.14 867.35,497.62 869.44,496.09 871.53,494.55 873.62,493.00 875.71,491.43 877.80,489.86 879.89,488.27 881.97,486.67 884.06,485.05 886.15,483.42 888.24,481.78 890.33,480.13 892.42,478.47 894.51,476.79 896.60,475.10 898.68,473.40 900.77,471.69 902.86,469.96 904.95,468.23 907.04,466.48 909.13,464.71 911.22,462.94 913.31,461.15 915.39,459.35 917.48,457.54 919.57,455.71 921.66,453.88 923.75,452.03 925.84,450.17 927.93,448.29 930.02,446.41 932.11,444.51 934.19,442.60 936.28,440.67 938.37,438.74 940.46,436.79 942.55,434.83 944.64,432.86 946.73,430.87 948.82,428.87 950.90,426.86 952.99,424.84 955.08,422.81 957.17,420.76 959.26,418.70 961.35,416.63 963.44,414.55 965.52,412.45 967.61,410.34 969.70,408.22 971.79,406.09 973.88,403.94 975.97,401.78 978.06,399.61 980.15,397.43 982.23,395.23 984.32,393.03 986.41,390.81 988.50,388.58 990.59,386.33 992.68,384.07 994.77,381.80 996.86,379.52 998.94,377.23 1001.03,374.92 1003.12,372.60 1005.21,370.27 1007.30,367.93"/>
<g fill="none" stroke="#2ca02c" stroke-width="2.60">
<rect x="171.86" y="308.16" width="13.80" height="13.80"/>
<rect x="199.71" y="290.94" width="13.80" height="13.80"/>
<rect x="227.56" y="274.92" width="13.80" height="13.80"/>
<rect x="255.41" y="260.06" width="13.80" height="13.80"/>
<rect x="283.26" y="246.35" width="13.80" height="13.80"/>
<rect x="311.11" y="233.81" width="13.80" height="13.80"/>
<rect x="338.96" y="222.47" width="13.80" height="13.80"/>
<rect x="366.81" y="212.38" width="13.80" height="13.80"/>
<rect x="394.66" y="203.58" width="13.80" height="13.80"/>
<rect x="422.51" y="196.13" width="13.80" height="13.80"/>
<rect x="450.36" y="190.07" width="13.80" height="13.80"/>
<rect x="478.21" y="185.44" width="13.80" height="13.80"/>
<rect x="506.06" y="182.30" width="13.80" height="13.80"/>
<rect x="533.91" y="180.65" width="13.80" height="13.80"/>
<rect x="561.76" y="180.53" width="13.80" height="13.80"/>
<rect x="589.61" y="181.93" width="13.80" height="13.80"/>
<rect x="617.46" y="184.86" width="13.80" height="13.80"/>
<rect x="645.31" y="189.28" width="13.80" height="13.80"/>
<rect x="673.16" y="195.18" width="13.80" height="13.80"/>
<rect x="701.01" y="202.52" width="13.80" height="13.80"/>
<rect x="728.86" y="211.24" width="13.80" height="13.80"/>
<rect x="756.71" y="221.31" width="13.80" height="13.80"/>
<rect x="784.56" y="232.67" width="13.80" height="13.80"/>
<rect x="812.41" y="245.26" width="13.80" height="13.80"/>
<rect x="840.26" y="259.05" width="13.80" height="13.80"/>
<rect x="868.11" y="273.99" width="13.80" height="13.80"/>
<rect x="895.96" y="290.08" width="13.80" height="13.80"/>
<rect x="923.81" y="307.32" width="13.80" height="13.80"/>
<rect x="951.66" y="325.74" width="13.80" height="13.80"/>
<rect x="979.51" y="345.40" width="13.80" height="13.80"/>
<rect x="185.79" y="328.28" width="13.80" height="13.80"/>
<rect x="213.64" y="347.93" width="13.80" height="13.80"/>
<rect x="241.49" y="366.32" width="13.80" height="13.80"/>
<rect x="269.34" y="383.54" width="13.80" height="13.80"/>
<rect x="297.19" y="399.61" width="13.80" height="13.80"/>
<rect x="325.04" y="414.54" width="13.80" height="13.80"/>
<rect x="352.89" y="428.31" width="13.80" height="13.80"/>
<rect x="380.74" y="440.90" width="13.80" height="13.80"/>
<rect x="408.59" y="452.24" width="13.80" height="13.80"/>
<rect x="436.44" y="462.29" width="13.80" height="13.80"/>
<rect x="464.29" y="471.00" width="13.80" height="13.80"/>
<rect x="492.14" y="478.31" width="13.80" height="13.80"/>
<rect x="519.99" y="484.18" width="13.80" height="13.80"/>
<rect x="547.84" y="488.57" width="13.80" height="13.80"/>
<rect x="575.69" y="491.46" width="13.80" height="13.80"/>
<rect x="603.54" y="492.82" width="13.80" height="13.80"/>
<rect x="631.39" y="492.65" width="13.80" height="13.80"/>
<rect x="659.24" y="490.97" width="13.80" height="13.80"/>
<rect x="687.09" y="487.79" width="13.80" height="13.80"/>
<rect x="714.94" y="483.14" width="13.80" height="13.80"/>
<rect x="742.79" y="477.06" width="13.80" height="13.80"/>
<rect x="770.64" y="469.61" width="13.80" height="13.80"/>
<rect x="798.49" y="460.84" width="13.80" height="13.80"/>
<rect x="826.34" y="450.78" width="13.80" height="13.80"/>
<rect x="854.19" y="439.51" width="13.80" height="13.80"/>
<rect x="882.04" y="427.05" width="13.80" height="13.80"/>
<rect x="909.89" y="413.42" width="13.80" height="13.80"/>
<rect x="937.74" y="398.65" width="13.80" height="13.80"/>
<rect x="965.59" y="382.70" width="13.80" height="13.80"/>
<rect x="993.44" y="365.53" width="13.80" height="13.80"/>
</g>
<polyline fill="none" stroke="#000" stroke-width="3.46" stroke-dasharray="22.12 5.53 3.46 5.53" points="171.80,319.56 173.89,318.20 175.98,316.85 178.07,315.51 180.16,314.17 182.24,312.84 184.33,311.52 186.42,310.21 188.51,308.90 190.60,307.60 192.69,306.31 194.78,305.03 196.87,303.75 198.95,302.48 201.04,301.22 203.13,299.97 205.22,298.72 207.31,297.48 209.40,296.25 211.49,295.03 213.58,293.81 215.66,292.60 217.75,291.40 219.84,290.21 221.93,289.02 224.02,287.84 226.11,286.67 228.20,285.50 230.29,284.34 232.37,283.19 234.46,282.05 236.55,280.92 238.64,279.79 240.73,278.67 242.82,277.55 244.91,276.45 247.00,275.35 249.08,274.26 251.17,273.18 253.26,272.10 255.35,271.03 257.44,269.97 259.53,268.92 261.62,267.87 263.71,266.83 265.79,265.80 267.88,264.78 269.97,263.76 272.06,262.75 274.15,261.75 276.24,260.75 278.33,259.77 280.42,258.79 282.50,257.82 284.59,256.85 286.68,255.89 288.77,254.94 290.86,254.00 292.95,253.07 295.04,252.14 297.12,251.22 299.21,250.30 301.30,249.40 303.39,248.50 305.48,247.61 307.57,246.73 309.66,245.85 311.75,244.98 313.84,244.12 315.92,243.27 318.01,242.42 320.10,241.58 322.19,240.75 324.28,239.93 326.37,239.11 328.46,238.30 330.55,237.50 332.63,236.71 334.72,235.92 336.81,235.14 338.90,234.37 340.99,233.60 343.08,232.84 345.17,232.09 347.25,231.35 349.34,230.62 351.43,229.89 353.52,229.17 355.61,228.46 357.70,227.75 359.79,227.05 361.88,226.36 363.97,225.68 366.05,225.00 368.14,224.34 370.23,223.67 372.32,223.02 374.41,222.37 376.50,221.74 378.59,221.10 380.68,220.48 382.76,219.86 384.85,219.26 386.94,218.65 389.03,218.06 391.12,217.47 393.21,216.89 395.30,216.32 397.38,215.76 399.47,215.20 401.56,214.65 403.65,214.11 405.74,213.57 407.83,213.04 409.92,212.52 412.01,212.01 414.10,211.51 416.18,211.01 418.27,210.52 420.36,210.03 422.45,209.56 424.54,209.09 426.63,208.63 428.72,208.18 430.81,207.73 432.89,207.29 434.98,206.86 437.07,206.44 439.16,206.02 441.25,205.61 443.34,205.21 445.43,204.82 447.52,204.43 449.60,204.05 451.69,203.68 453.78,203.31 455.87,202.96 457.96,202.61 460.05,202.26 462.14,201.93 464.22,201.60 466.31,201.28 468.40,200.97 470.49,200.66 472.58,200.37 474.67,200.08 476.76,199.79 478.85,199.52 480.94,199.25 483.02,198.99 485.11,198.74 487.20,198.49 489.29,198.25 491.38,198.02 493.47,197.80 495.56,197.58 497.65,197.37 499.73,197.17 501.82,196.98 503.91,196.79 506.00,196.61 508.09,196.44 510.18,196.27 512.27,196.12 514.36,195.97 516.44,195.82 518.53,195.69 520.62,195.56 522.71,195.44 524.80,195.33 526.89,195.22 528.98,195.13 531.07,195.04 533.15,194.95 535.24,194.88 537.33,194.81 539.42,194.75 541.51,194.70 543.60,194.65 545.69,194.61 547.78,194.58 549.86,194.56 551.95,194.54 554.04,194.53 556.13,194.53 558.22,194.54 560.31,194.55 562.40,194.57 564.49,194.60 566.57,194.64 568.66,194.68 570.75,194.73 572.84,194.79 574.93,194.85 577.02,194.93 579.11,195.01 581.19,195.09 583.28,195.19 585.37,195.29 587.46,195.40 589.55,195.52 591.64,195.64 593.73,195.77 595.82,195.91 597.90,196.06 599.99,196.22 602.08,196.38 604.17,196.55 606.26,196.72 608.35,196.91 610.44,197.10 612.53,197.30 614.62,197.50 616.70,197.72 618.79,197.94 620.88,198.17 622.97,198.40 625.06,198.64 627.15,198.90 629.24,199.15 631.33,199.42 633.41,199.69 635.50,199.97 637.59,200.26 639.68,200.55 641.77,200.86 643.86,201.17 645.95,201.48 648.03,201.81 650.12,202.14 652.21,202.48 654.30,202.83 656.39,203.18 658.48,203.54 660.57,203.91 662.66,204.29 664.75,204.67 666.83,205.07 668.92,205.46 671.01,205.87 673.10,206.28 675.19,206.71 677.28,207.13 679.37,207.57 681.45,208.01 683.54,208.46 685.63,208.92 687.72,209.39 689.81,209.86 691.90,210.34 693.99,210.83 696.08,211.32 698.16,211.83 700.25,212.34 702.34,212.85 704.43,213.38 706.52,213.91 708.61,214.45 710.70,215.00 712.79,215.55 714.88,216.11 716.96,216.68 719.05,217.26 721.14,217.84 723.23,218.44 725.32,219.03 727.41,219.64 729.50,220.26 731.59,220.88 733.67,221.50 735.76,222.14 737.85,222.78 739.94,223.44 742.03,224.09 744.12,224.76 746.21,225.43 748.30,226.11 750.38,226.80 752.47,227.50 754.56,228.20 756.65,228.91 758.74,229.63 760.83,230.35 762.92,231.08 765.00,231.82 767.09,232.57 769.18,233.33 771.27,234.09 773.36,234.86 775.45,235.63 777.54,236.42 779.63,237.21 781.71,238.01 783.80,238.81 785.89,239.63 787.98,240.45 790.07,241.28 792.16,242.11 794.25,242.96 796.34,243.81 798.42,244.67 800.51,245.53 802.60,246.41 804.69,247.29 806.78,248.18 808.87,249.07 810.96,249.97 813.05,250.88 815.13,251.80 817.22,252.73 819.31,253.66 821.40,254.60 823.49,255.55 825.58,256.50 827.67,257.46 829.76,258.43 831.85,259.41 833.93,260.39 836.02,261.39 838.11,262.38 840.20,263.39 842.29,264.41 844.38,265.43 846.47,266.46 848.56,267.49 850.64,268.54 852.73,269.59 854.82,270.64 856.91,271.71 859.00,272.78 861.09,273.86 863.18,274.95 865.26,276.05 867.35,277.15 869.44,278.26 871.53,279.38 873.62,280.50 875.71,281.64 877.80,282.78 879.89,283.92 881.97,285.08 884.06,286.24 886.15,287.41 888.24,288.59 890.33,289.77 892.42,290.96 894.51,292.16 896.60,293.37 898.68,294.58 900.77,295.81 902.86,297.03 904.95,298.27 907.04,299.51 909.13,300.77 911.22,302.02 913.31,303.29 915.39,304.56 917.48,305.84 919.57,307.13 921.66,308.43 923.75,309.73 925.84,311.04 927.93,312.36 930.02,313.69 932.11,315.02 934.19,316.36 936.28,317.71 938.37,319.06 940.46,320.42 942.55,321.79 944.64,323.17 946.73,324.55 948.82,325.95 950.90,327.35 952.99,328.75 955.08,330.17 957.17,331.59 959.26,333.02 961.35,334.45 963.44,335.90 965.52,337.35 967.61,338.81 969.70,340.27 971.79,341.75 973.88,343.23 975.97,344.72 978.06,346.21 980.15,347.71 982.23,349.23 984.32,350.74 986.41,352.27 988.50,353.80 990.59,355.34 992.68,356.89 994.77,358.44 996.86,360.01 998.94,361.58 1001.03,363.15 1003.12,364.74 1005.21,366.33 1007.30,367.93"/>
<polyline fill="none" stroke="#000" stroke-width="3.46" stroke-dasharray="22.12 5.53 3.46 5.53" points="171.80,319.56 173.89,321.16 175.98,322.75 178.07,324.33 180.16,325.91 182.24,327.48 184.33,329.04 186.42,330.60 188.51,332.14 190.60,333.68 192.69,335.22 194.78,336.74 196.87,338.26 198.95,339.77 201.04,341.27 203.13,342.77 205.22,344.26 207.31,345.74 209.40,347.21 211.49,348.68 213.58,350.14 215.66,351.59 217.75,353.03 219.84,354.47 221.93,355.90 224.02,357.32 226.11,358.73 228.20,360.14 230.29,361.54 232.37,362.93 234.46,364.32 236.55,365.69 238.64,367.06 240.73,368.43 242.82,369.78 244.91,371.13 247.00,372.47 249.08,373.80 251.17,375.13 253.26,376.44 255.35,377.75 257.44,379.06 259.53,380.35 261.62,381.64 263.71,382.92 265.79,384.20 267.88,385.46 269.97,386.72 272.06,387.97 274.15,389.21 276.24,390.45 278.33,391.68 280.42,392.90 282.50,394.12 284.59,395.32 286.68,396.52 288.77,397.71 290.86,398.90 292.95,400.07 295.04,401.24 297.12,402.41 299.21,403.56 301.30,404.71 303.39,405.85 305.48,406.98 307.57,408.11 309.66,409.22 311.75,410.33 313.84,411.44 315.92,412.53 318.01,413.62 320.10,414.70 322.19,415.78 324.28,416.84 326.37,417.90 328.46,418.95 330.55,419.99 332.63,421.03 334.72,422.06 336.81,423.08 338.90,424.09 340.99,425.10 343.08,426.10 345.17,427.09 347.25,428.08 349.34,429.05 351.43,430.02 353.52,430.99 355.61,431.94 357.70,432.89 359.79,433.83 361.88,434.76 363.97,435.68 366.05,436.60 368.14,437.51 370.23,438.42 372.32,439.31 374.41,440.20 376.50,441.08 378.59,441.95 380.68,442.82 382.76,443.68 384.85,444.53 386.94,445.37 389.03,446.21 391.12,447.04 393.21,447.86 395.30,448.67 397.38,449.48 399.47,450.28 401.56,451.07 403.65,451.85 405.74,452.63 407.83,453.40 409.92,454.16 412.01,454.92 414.10,455.66 416.18,456.40 418.27,457.13 420.36,457.86 422.45,458.58 424.54,459.29 426.63,459.99 428.72,460.69 430.81,461.37 432.89,462.05 434.98,462.73 437.07,463.39 439.16,464.05 441.25,464.70 443.34,465.34 445.43,465.98 447.52,466.61 449.60,467.23 451.69,467.84 453.78,468.45 455.87,469.05 457.96,469.64 460.05,470.23 462.14,470.80 464.22,471.37 466.31,471.93 468.40,472.49 470.49,473.03 472.58,473.57 474.67,474.11 476.76,474.63 478.85,475.15 480.94,475.66 483.02,476.16 485.11,476.66 487.20,477.14 489.29,477.63 491.38,478.10 493.47,478.56 495.56,479.02 497.65,479.47 499.73,479.92 501.82,480.35 503.91,480.78 506.00,481.20 508.09,481.62 510.18,482.02 512.27,482.42 514.36,482.81 516.44,483.20 518.53,483.57 520.62,483.94 522.71,484.30 524.80,484.66 526.89,485.00 528.98,485.34 531.07,485.68 533.15,486.00 535.24,486.32 537.33,486.63 539.42,486.93 541.51,487.23 543.60,487.51 545.69,487.79 547.78,488.07 549.86,488.33 551.95,488.59 554.04,488.84 556.13,489.08 558.22,489.32 560.31,489.55 562.40,489.77 564.49,489.98 566.57,490.19 568.66,490.39 570.75,490.58 572.84,490.76 574.93,490.94 577.02,491.11 579.11,491.27 581.19,491.42 583.28,491.57 585.37,491.71 587.46,491.84 589.55,491.97 591.64,492.09 593.73,492.19 595.82,492.30 597.90,492.39 599.99,492.48 602.08,492.56 604.17,492.63 606.26,492.70 608.35,492.76 610.44,492.81 612.53,492.85 614.62,492.89 616.70,492.91 618.79,492.93 620.88,492.95 622.97,492.95 625.06,492.95 627.15,492.94 629.24,492.93 631.33,492.90 633.41,492.87 635.50,492.83 637.59,492.79 639.68,492.74 641.77,492.68 643.86,492.61 645.95,492.53 648.03,492.45 650.12,492.36 652.21,492.26 654.30,492.16 656.39,492.04 658.48,491.92 660.57,491.80 662.66,491.66 664.75,491.52 666.83,491.37 668.92,491.21 671.01,491.05 673.10,490.88 675.19,490.70 677.28,490.51 679.37,490.32 681.45,490.11 683.54,489.91 685.63,489.69 687.72,489.47 689.81,489.24 691.90,489.00 693.99,488.75 696.08,488.50 698.16,488.24 700.25,487.97 702.34,487.69 704.43,487.41 706.52,487.12 708.61,486.82 710.70,486.52 712.79,486.20 714.88,485.88 716.96,485.56 719.05,485.22 721.14,484.88 723.23,484.53 725.32,484.17 727.41,483.81 729.50,483.44 731.59,483.06 733.67,482.67 735.76,482.28 737.85,481.87 739.94,481.47 742.03,481.05 744.12,480.63 746.21,480.19 748.30,479.76 750.38,479.31 752.47,478.86 754.56,478.39 756.65,477.93 758.74,477.45 760.83,476.97 762.92,476.48 765.00,475.98 767.09,475.47 769.18,474.96 771.27,474.44 773.36,473.91 775.45,473.38 777.54,472.84 779.63,472.29 781.71,471.73 783.80,471.16 785.89,470.59 787.98,470.01 790.07,469.43 792.16,468.83 794.25,468.23 796.34,467.62 798.42,467.01 800.51,466.38 802.60,465.75 804.69,465.11 806.78,464.47 808.87,463.81 810.96,463.15 813.05,462.48 815.13,461.81 817.22,461.12 819.31,460.43 821.40,459.73 823.49,459.03 825.58,458.32 827.67,457.60 829.76,456.87 831.85,456.13 833.93,455.39 836.02,454.64 838.11,453.88 840.20,453.12 842.29,452.35 844.38,451.57 846.47,450.78 848.56,449.99 850.64,449.18 852.73,448.38 854.82,447.56 856.91,446.73 859.00,445.90 861.09,445.06 863.18,444.22 865.26,443.36 867.35,442.50 869.44,441.64 871.53,440.76 873.62,439.88 875.71,438.99 877.80,438.09 879.89,437.18 881.97,436.27 884.06,435.35 886.15,434.42 888.24,433.49 890.33,432.54 892.42,431.59 894.51,430.64 896.60,429.67 898.68,428.70 900.77,427.72 902.86,426.73 904.95,425.74 907.04,424.74 909.13,423.73 911.22,422.71 913.31,421.69 915.39,420.65 917.48,419.61 919.57,418.57 921.66,417.51 923.75,416.45 925.84,415.39 927.93,414.31 930.02,413.23 932.11,412.13 934.19,411.04 936.28,409.93 938.37,408.82 940.46,407.70 942.55,406.57 944.64,405.43 946.73,404.29 948.82,403.14 950.90,401.98 952.99,400.82 955.08,399.65 957.17,398.47 959.26,397.28 961.35,396.09 963.44,394.88 965.52,393.67 967.61,392.46 969.70,391.23 971.79,390.00 973.88,388.76 975.97,387.52 978.06,386.26 980.15,385.00 982.23,383.73 984.32,382.46 986.41,381.17 988.50,379.88 990.59,378.58 992.68,377.28 994.77,375.96 996.86,374.64 998.94,373.32 1001.03,371.98 1003.12,370.64 1005.21,369.29 1007.30,367.93"/>
<line x1="130.06" y1="319.56" x2="1049.20" y2="319.56" stroke="#808080" stroke-width="3.46" stroke-dasharray="3.46 5.70"/>
</g>
<g stroke="#000" stroke-width="2.08">
<line x1="171.80" y1="686.30" x2="171.80" y2="678.30"/>
<line x1="171.80" y1="0.70" x2="171.80" y2="8.70"/>
<line x1="338.90" y1="686.30" x2="338.90" y2="678.30"/>
<line x1="338.90" y1="0.70" x2="338.90" y2="8.70"/>
<line x1="506.00" y1="686.30" x2="506.00" y2="678.30"/>
<line x1="506.00" y1="0.70" x2="506.00" y2="8.70"/>
<line x1="673.10" y1="686.30" x2="673.10" y2="678.30"/>
<line x1="673.10" y1="0.70" x2="673.10" y2="8.70"/>
<line x1="840.20" y1="686.30" x2="840.20" y2="678.30"/>
<line x1="840.20" y1="0.70" x2="840.20" y2="8.70"/>
<line x1="1007.30" y1="686.30" x2="1007.30" y2="678.30"/>
<line x1="1007.30" y1="0.70" x2="1007.30" y2="8.70"/>
<line x1="130.06" y1="675.89" x2="138.06" y2="675.89"/>
<line x1="1049.20" y1="675.89" x2="1041.20" y2="675.89"/>
<line x1="130.06" y1="598.90" x2="138.06" y2="598.90"/>
<line x1="1049.20" y1="598.90" x2="1041.20" y2="598.90"/>
<line x1="130.06" y1="521.91" x2="138.06" y2="521.91"/>
<line x1="1049.20" y1="521.91" x2="1041.20" y2="521.91"/>
<line x1="130.06" y1="444.92" x2="138.06" y2="444.92"/>
<line x1="1049.20" y1="444.92" x2="1041.20" y2="444.92"/>
<line x1="130.06" y1="367.93" x2="138.06" y2="367.93"/>
<line x1="1049.20" y1="367.93" x2="1041.20" y2="367.93"/>
<line x1="130.06" y1="290.94" x2="138.06" y2="290.94"/>
<line x1="1049.20" y1="290.94" x2="1041.20" y2="290.94"/>
<line x1="130.06" y1="213.95" x2="138.06" y2="213.95"/>
<line x1="1049.20" y1="213.95" x2="1041.20" y2="213.95"/>
<line x1="130.06" y1="136.96" x2="138.06" y2="136.96"/>
<line x1="1049.20" y1="136.96" x2="1041.20" y2="136.96"/>
<line x1="130.06" y1="59.97" x2="138.06" y2="59.97"/>
<line x1="1049.20" y1="59.97" x2="1041.20" y2="59.97"/>
</g>
<rect x="130.06" y="0.70" width="919.14" height="685.60" fill="none" stroke="#000" stroke-width="2.08"/>
<g font-size="35.0">
<text x="171.60" y="719.40" text-anchor="middle">0.0</text>
<text x="338.70" y="719.40" text-anchor="middle">0.2</text>
<text x="505.80" y="719.40" text-anchor="middle">0.4</text>
<text x="672.90" y="719.40" text-anchor="middle">0.6</text>
<text x="840.00" y="719.40" text-anchor="middle">0.8</text>
<text x="1007.10" y="719.40" text-anchor="middle">1.0</text>
<text x="122.00" y="688.89" text-anchor="end">40</text>
<text transform="matrix(1.2983,0,-0.0000,1,61.67,691.29)" font-size="35.00">−</text>
<text x="122.00" y="611.90" text-anchor="end">30</text>
<text transform="matrix(1.2983,0,-0.0000,1,61.67,614.30)" font-size="35.00">−</text>
<text x="122.00" y="534.91" text-anchor="end">20</text>
<text transform="matrix(1.2983,0,-0.0000,1,61.67,537.31)" font-size="35.00">−</text>
<text x="122.00" y="457.92" text-anchor="end">10</text>
<text transform="matrix(1.2983,0,-0.0000,1,61.67,460.32)" font-size="35.00">−</text>
<text x="122.00" y="380.93" text-anchor="end">0</text>
<text x="122.00" y="303.94" text-anchor="end">10</text>
<text x="122.00" y="226.95" text-anchor="end">20</text>
<text x="122.00" y="149.96" text-anchor="end">30</text>
<text x="122.00" y="72.97" text-anchor="end">40</text>
</g>
<rect x="879.9" y="12.4" width="157.8" height="108" rx="3.6" fill="#fff" stroke="#d1d1d1" stroke-width="2.2"/>
<rect x="905.10" y="24.10" width="13.80" height="13.80" fill="none" stroke="#1f77b4" stroke-width="2.60"/>
<rect x="905.10" y="57.90" width="13.80" height="13.80" fill="none" stroke="#ff7f0e" stroke-width="2.60"/>
<rect x="905.10" y="91.70" width="13.80" height="13.80" fill="none" stroke="#2ca02c" stroke-width="2.60"/>
<text transform="matrix(0.9344,0,-0.0000,1,953.65,39.53)" font-size="23.71" font-style="italic">ℓ</text>
<text transform="matrix(1.4655,0,-0.0000,1,968.92,41.10)" font-size="23.00">=</text>
<text transform="matrix(1.0000,0,-0.0000,1,993.79,39.20)" font-size="23.20">120</text>
<text transform="matrix(0.9344,0,-0.0000,1,953.65,73.33)" font-size="23.71" font-style="italic">ℓ</text>
<text transform="matrix(1.4655,0,-0.0000,1,968.92,74.90)" font-size="23.00">=</text>
<text transform="matrix(1.0000,0,-0.0000,1,993.79,73.00)" font-size="23.20">100</text>
<text transform="matrix(0.9344,0,-0.0000,1,953.65,107.13)" font-size="23.71" font-style="italic">ℓ</text>
<text transform="matrix(1.4655,0,-0.0000,1,968.92,108.70)" font-size="23.00">=</text>
<text transform="matrix(1.0000,0,-0.0000,1,994.88,106.80)" font-size="23.20">60</text>
<text transform="matrix(0.7554,0,-0.0000,1,509.16,773.54)" font-size="56.95" stroke="#fff" stroke-width="1.00">(</text>
<text transform="matrix(1.1188,0,-0.0900,1,527.74,769.33)" font-size="40.76" font-style="italic" stroke="#fff" stroke-width="0.50">j</text>
<text transform="matrix(1.0333,0,-0.0000,1,550.51,778.05)" font-size="56.57" stroke="#fff" stroke-width="1.30">+</text>
<text transform="matrix(0.9096,0,-0.0000,1,594.04,753.70)" font-size="29.02">1</text>
<text transform="matrix(1.0127,0,-0.0000,1,593.98,783.90)" font-size="29.02">2</text>
<text transform="matrix(0.8329,0,-0.0000,1,610.42,773.54)" font-size="56.95" stroke="#fff" stroke-width="1.00">)</text>
<text transform="matrix(0.9560,0,-0.0000,1,638.45,779.48)" font-size="62.11" stroke="#fff" stroke-width="1.10">/</text>
<text transform="matrix(0.8765,0,-0.0000,1,656.59,769.80)" font-size="44.65" font-style="italic" stroke="#fff" stroke-width="0.40">ℓ</text>
<rect x="593.6" y="758.1" width="14.4" height="1.8" fill="#000"/>
<g transform="translate(35.7,413.0) rotate(-90)">
<text transform="matrix(0.7914,0,-0.0000,1,-1.08,0.00)" font-size="43.58">I</text>
<text transform="matrix(1.0347,0,-0.0000,1,12.18,0.00)" font-size="38.40">m</text>
<text transform="matrix(0.4743,0,-0.0000,1,58.74,6.35)" font-size="58.83" stroke="#fff" stroke-width="0.24">[</text>
<text transform="matrix(0.9914,0,-0.0000,1,69.47,0.20)" font-size="40.96" font-style="italic">k</text>
<text transform="matrix(0.8798,0,-0.0000,1,92.10,-14.80)" font-size="30.36">A</text>
<text transform="matrix(1.1359,0,-0.0900,1,91.88,10.24)" font-size="28.41" font-style="italic" stroke="#fff" stroke-width="0.30">j</text>
<text transform="matrix(0.8108,0,-0.0000,1,101.88,11.68)" font-size="24.47">,</text>
<text transform="matrix(1.1546,0,-0.0900,1,111.34,10.24)" font-size="28.41" font-style="italic" stroke="#fff" stroke-width="0.30">j</text>
<text transform="matrix(0.5686,0,-0.0000,1,123.03,6.35)" font-size="58.83" stroke="#fff" stroke-width="0.24">]</text>
</g>
</svg></body></html>
